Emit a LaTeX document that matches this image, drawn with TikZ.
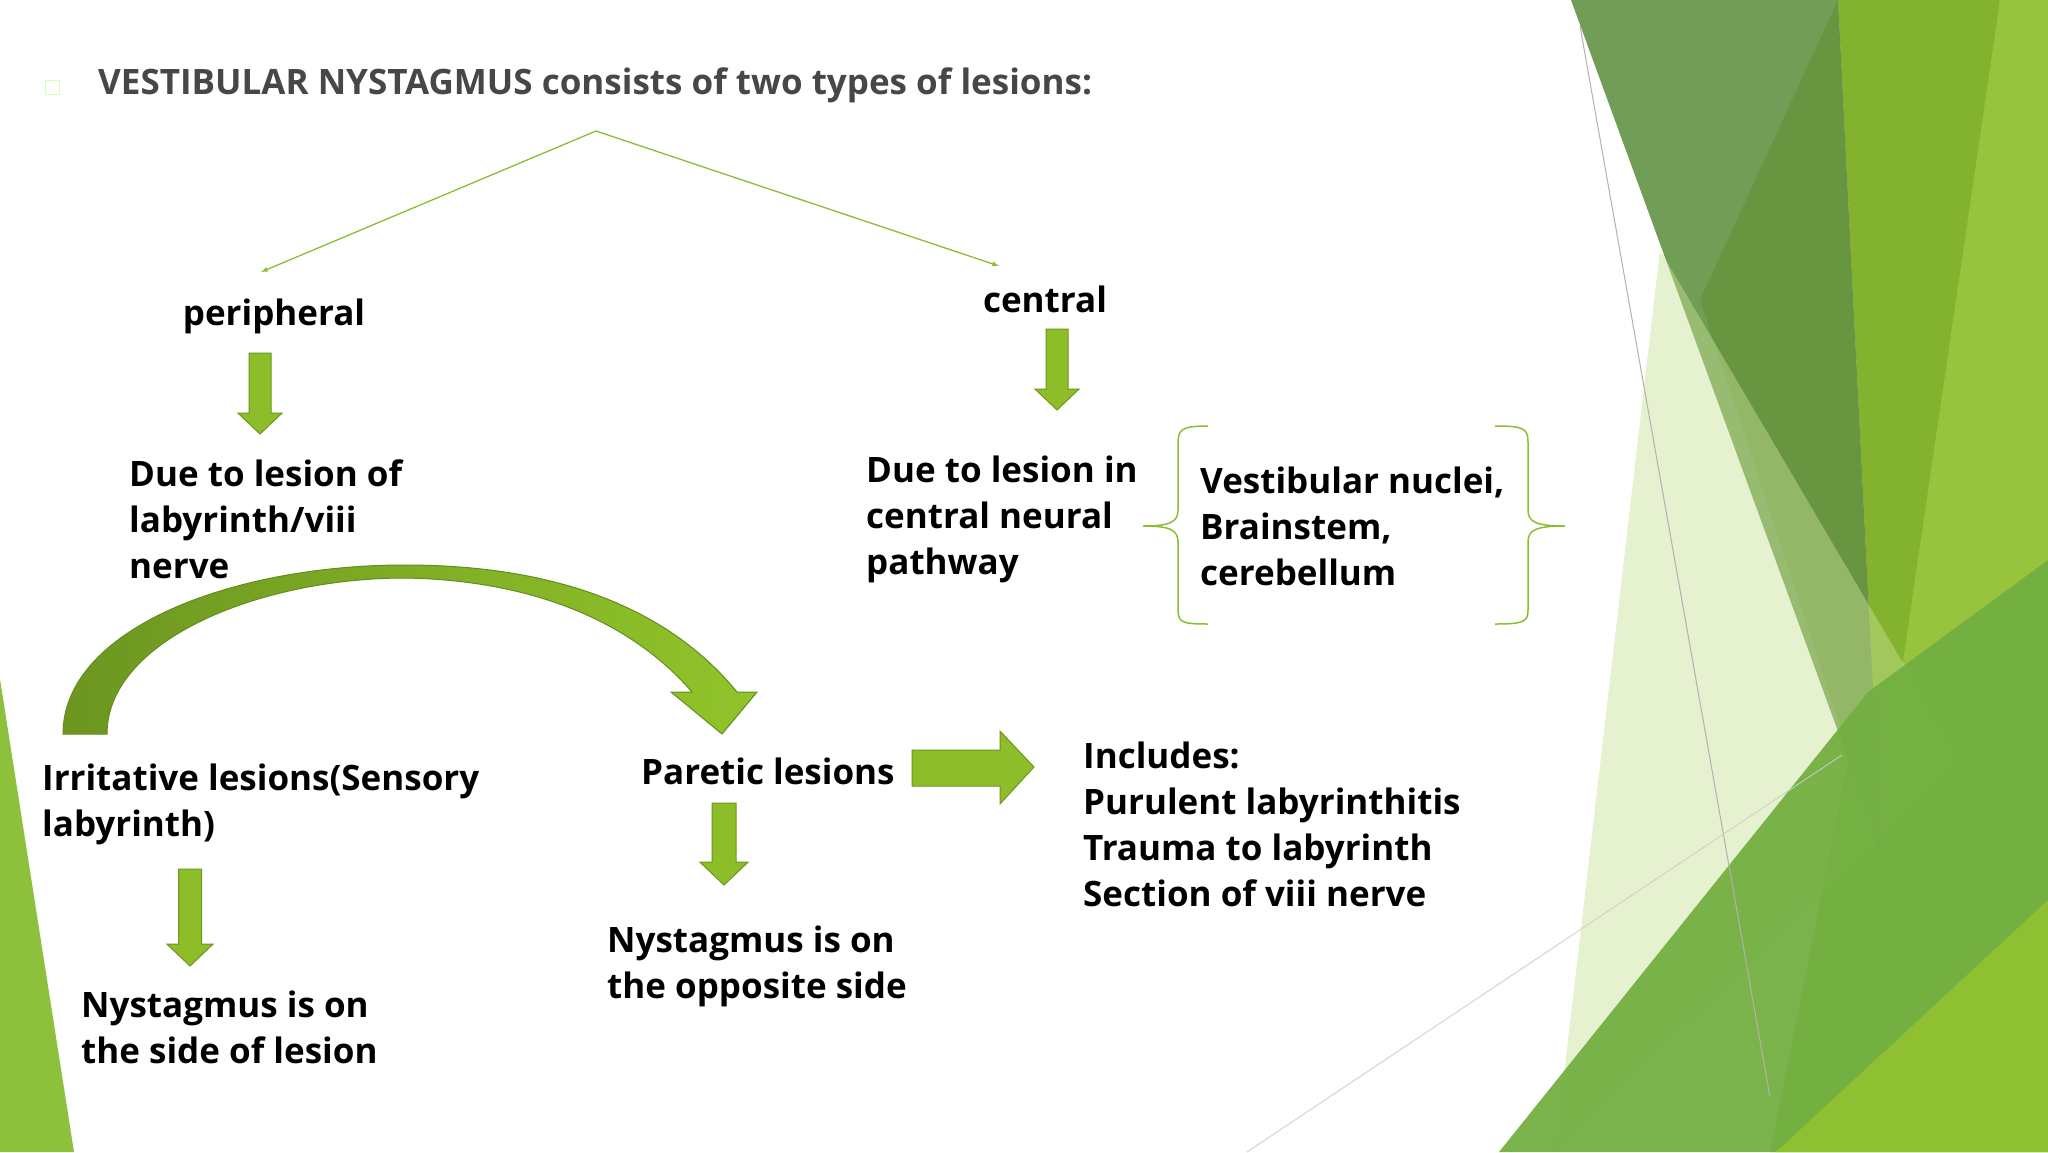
\documentclass[tikz,border=0pt]{standalone}
\usepackage{fontspec}
\setmainfont{Open Sans}
\begin{document}
\begin{tikzpicture}[x=1pt,y=-1pt,
  txt/.style={anchor=west,align=left,font=\fontsize{35}{46}\selectfont\bfseries,inner sep=0pt},
  gline/.style={draw={rgb,255:red,140;green,190;blue,50},line width=1.3pt},
  blk/.style={fill={rgb,255:red,141;green,189;blue,40},draw={rgb,255:red,110;green,150;blue,30},line width=1pt}]
\useasboundingbox (0,0) rectangle (2048,1152);
\fill[white] (0,0) rectangle (2048,1152);
% background
\fill[color={rgb,255:red,151;green,196;blue,60}] (2000,0)--(2048,0)--(2048,1152)--(1770,1152)--cycle;
\fill[color={rgb,255:red,131;green,178;blue,46}] (1838,0)--(2000,0)--(1862,940)--(1881,849)--cycle;
\fill[color={rgb,255:red,113;green,157;blue,86}] (1571,0)--(1838,0)--(1881,849)--cycle;
\fill[color={rgb,255:red,104;green,150;blue,64}] (1700,300)--(1838,0)--(1881,849)--cycle;
\fill[color={rgb,255:red,200;green,225;blue,150},opacity=.45] (1660,250)--(1960,760)--(1555,1152)--cycle;
\fill[color={rgb,255:red,115;green,175;blue,66},opacity=.95] (1499,1152)--(1868,692)--(2048,560)--(2048,1152)--cycle;
\fill[color={rgb,255:red,143;green,192;blue,49}] (1776,1152)--(2048,900)--(2048,1152)--cycle;
\draw[gray!60,line width=1pt] (1580,26)--(1770,1097);
\draw[gray!40,line width=0.8pt] (1247,1152)--(1842,755);
\fill[color={rgb,255:red,141;green,193;blue,60}] (0,679)--(74,1152)--(0,1152)--cycle;
% title
\node[anchor=west,inner sep=0pt,font=\fontsize{35}{40}\selectfont\bfseries,text=black!72] (title) at (98,85) {VESTIBULAR NYSTAGMUS consists of two types of lesions:};
\node[draw=lime!60!green!30,line width=0.6pt,minimum size=14pt,inner sep=0pt] (bul) at (52,87) {};
\coordinate (split) at (596,131);
\node[txt,anchor=center] (per) at (274,316) {peripheral};
\node[txt,anchor=center] (cen) at (1045,299) {central};
\draw[gline,-latex] (split) -- (261,272);
\draw[gline,-latex] (split) -- (999,266);
% down arrows
\newcommand\darrow[4]{% x center, y top, y bottom, half width
 \filldraw[blk] (#1-#4*0.5,#2)--(#1+#4*0.5,#2)--(#1+#4*0.5,#3-#4*0.95)--(#1+#4,#3-#4*0.95)--(#1,#3)--(#1-#4,#3-#4*0.95)--(#1-#4*0.5,#3-#4*0.95)--cycle;}
\darrow{260}{353}{434}{22}
\darrow{1057}{329}{410}{22}
\darrow{724}{803}{885}{24}
\darrow{190}{869}{966}{23}
\node[txt] (d1) at (129,519) {Due to lesion of\\labyrinth/viii\\nerve};
\node[txt] (d2) at (866,519) {Due to lesion in\\central neural\\pathway};
\node[txt] (vn) at (1200,526) {Vestibular nuclei,\\Brainstem,\\cerebellum};
\draw[gline,line width=1.5pt] (1208,426) .. controls (1180,426) and (1178,430) .. (1178,445) -- (1178,510) .. controls (1178,522) and (1170,526) .. (1143,526) .. controls (1170,526) and (1178,530) .. (1178,542) -- (1178,608) .. controls (1178,622) and (1180,624) .. (1208,624);
\draw[gline,line width=1.5pt] (1495,426) .. controls (1523,426) and (1528,428) .. (1528,442) -- (1528,510) .. controls (1528,522) and (1536,526) .. (1565,526) .. controls (1536,526) and (1528,530) .. (1528,542) -- (1528,610) .. controls (1528,622) and (1523,624) .. (1495,624);
% curved arrow
\shade[left color={rgb,255:red,108;green,150;blue,32},right color={rgb,255:red,145;green,196;blue,42},draw={rgb,255:red,100;green,140;blue,30},line width=1pt]
 (63,734) .. controls (63,630) and (230,565) .. (405,565) .. controls (560,565) and (670,610) .. (737,692) -- (757,692) -- (722,734) -- (671,692) -- (692,692) .. controls (630,620) and (530,580) .. (405,578) .. controls (260,578) and (107,640) .. (107,734) -- cycle;
\node[txt] (irr) at (42,804) {Irritative lesions(Sensory\\labyrinth)};
\node[txt] (par) at (641,771) {Paretic lesions};
\filldraw[blk] (912,750)--(1000,750)--(1000,731)--(1034,767)--(1000,804)--(1000,786)--(912,786)--cycle;
\node[txt] (inc) at (1083,824) {Includes:\\Purulent labyrinthitis\\Trauma to labyrinth\\Section of viii nerve};
\node[txt] (n1) at (81,1027) {Nystagmus is on\\the side of lesion};
\node[txt] (n2) at (607,966) {Nystagmus is on\\the opposite side};
\end{tikzpicture}
\end{document}
